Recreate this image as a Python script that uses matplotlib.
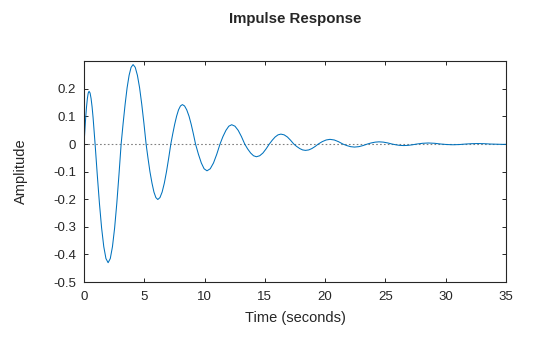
import matplotlib
matplotlib.use("Agg")
import matplotlib.pyplot as plt

plt.rcParams['font.family'] = ['Liberation Sans', 'DejaVu Sans']

# impulse response samples (time in s, amplitude)
time_s = [0, 0.07, 0.14, 0.21, 0.28, 0.35, 0.42, 0.503, 0.587, 0.67, 0.753, 0.837, 0.92,
          1.10, 1.28, 1.46, 1.64, 1.82, 2.0, 2.18, 2.36, 2.54, 2.72, 2.90, 3.08,
          3.245, 3.41, 3.575, 3.74, 3.905, 4.07, 4.25, 4.43, 4.61, 4.79, 4.97, 5.15,
          5.31, 5.47, 5.64, 5.80, 5.96, 6.12, 6.30, 6.48, 6.66, 6.84, 7.02, 7.2,
          7.36, 7.52, 7.68, 7.84, 8.00, 8.16, 8.34, 8.52, 8.71, 8.89, 9.07, 9.25,
          9.49, 9.73, 9.96, 10.2, 10.47, 10.74, 11.01, 11.28,
          11.52, 11.77, 12.01, 12.25, 12.52, 12.79, 13.06, 13.33,
          13.57, 13.82, 14.06, 14.3, 14.57, 14.84, 15.10, 15.37,
          15.61, 15.85, 16.09, 16.33, 16.60, 16.87, 17.13, 17.4,
          17.64, 17.89, 18.13, 18.37, 18.64, 18.90, 19.17, 19.43,
          19.75, 20.08, 20.4, 20.76, 21.11, 21.47,
          21.79, 22.11, 22.43, 22.79, 23.14, 23.5,
          23.82, 24.15, 24.47, 24.83, 25.19, 25.55,
          25.87, 26.18, 26.5, 26.87, 27.23, 27.6,
          28.08, 28.55, 29.08, 29.6,
          30.1, 30.6, 31.13, 31.65,
          32.15, 32.65, 33.18, 33.7,
          34.2, 34.7, 35.0]

amplitude = [0, 0.049, 0.096, 0.135, 0.165, 0.185, 0.191, 0.185, 0.165, 0.135, 0.096, 0.049, 0,
             -0.111, -0.215, -0.304, -0.372, -0.415, -0.430, -0.415, -0.372, -0.304, -0.215, -0.111, 0,
             0.075, 0.144, 0.204, 0.249, 0.278, 0.288, 0.278, 0.249, 0.204, 0.144, 0.075, 0,
             -0.052, -0.1005, -0.142, -0.174, -0.194, -0.201, -0.194, -0.174, -0.142, -0.1005, -0.052, 0,
             0.037, 0.0715, 0.101, 0.124, 0.138, 0.143, 0.138, 0.124, 0.101, 0.0715, 0.037, 0,
             -0.037, -0.0686, -0.0896, -0.097, -0.0896, -0.0686, -0.037, 0,
             0.0268, 0.0495, 0.0647, 0.070, 0.0647, 0.0495, 0.0268, 0,
             -0.0176, -0.0325, -0.0425, -0.046, -0.0425, -0.0325, -0.0176, 0,
             0.0138, 0.0255, 0.0333, 0.036, 0.0333, 0.0255, 0.0138, 0,
             -0.0088, -0.0163, -0.0213, -0.023, -0.0213, -0.0163, -0.0088, 0,
             0.0085, 0.0147, 0.017, 0.0147, 0.0085, 0,
             -0.0055, -0.0095, -0.011, -0.0095, -0.0055, 0,
             0.004, 0.0069, 0.008, 0.0069, 0.004, 0,
             -0.0028, -0.0048, -0.0055, -0.0048, -0.0028, 0,
             0.0027, 0.0038, 0.0027, 0,
             -0.0018, -0.0026, -0.0018, 0,
             0.0013, 0.0018, 0.0013, 0,
             -0.0008, -0.0012, -0.0011]

x_ticks = [0, 5, 10, 15, 20, 25, 30, 35]
y_ticks = [-0.5, -0.4, -0.3, -0.2, -0.1, 0, 0.1, 0.2]
y_tick_labels = ['-0.5', '-0.4', '-0.3', '-0.2', '-0.1', '0', '0.1', '0.2']

dark = '#262626'

fig = plt.figure(figsize=(5.6, 3.37), dpi=100)
ax = fig.add_axes([0.15, 0.1632, 0.7536, 0.655])

ax.axhline(0, color='#808080', lw=0.8, linestyle=(0, (1.5, 2)), zorder=1)
ax.plot(time_s, amplitude, color='#0072BD', lw=0.75, zorder=2)

ax.set_xlim(0, 35)
ax.set_ylim(-0.5, 0.3)
ax.set_xticks(x_ticks)
ax.set_xticklabels([str(v) for v in x_ticks])
ax.set_yticks(y_ticks)
ax.set_yticklabels(y_tick_labels)

ax.tick_params(direction='in', length=3, width=0.7, colors=dark,
               labelsize=9.5, top=True, right=True)
ax.tick_params(axis='x', pad=6.5)
ax.tick_params(axis='y', pad=5.5)
for sp in ax.spines.values():
    sp.set_color(dark)
    sp.set_linewidth(0.8)

ax.set_xlabel('Time (seconds)', fontsize=10.5, color=dark, labelpad=6)
ax.set_ylabel('Amplitude', fontsize=10.5, color=dark, labelpad=18)
fig.text(0.527, 0.945, 'Impulse Response', ha='center', va='center',
         fontsize=10.8, fontweight='bold', color=dark)

fig.savefig('out.png', dpi=100)
